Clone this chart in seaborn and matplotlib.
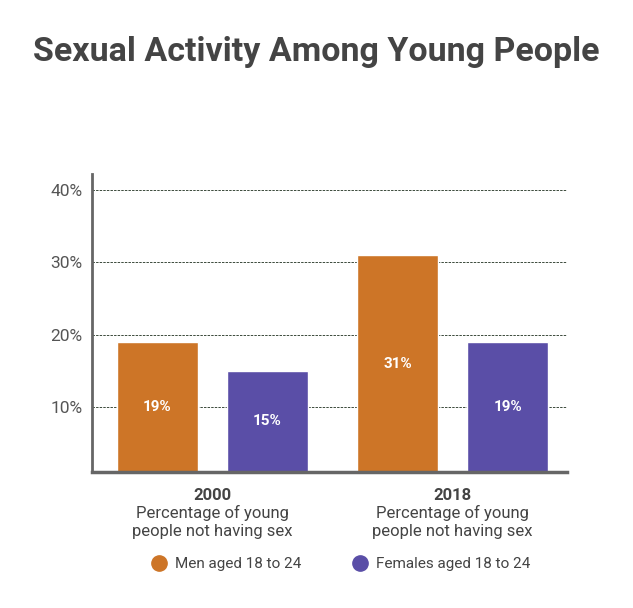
import numpy as np
import pandas as pd
import matplotlib
matplotlib.use("Agg")
import matplotlib.pyplot as plt
from matplotlib.lines import Line2D
import seaborn as sns

# values
years = ["2000", "2018"]
caption = "Percentage of young\npeople not having sex"
groups = ["Men aged 18 to 24", "Females aged 18 to 24"]
men_pct = [19, 31]
women_pct = [15, 19]
y_ticks = [10, 20, 30, 40]

colors = ["#CD7527", "#5A4EA7"]
dark = "#444444"
grey = "#555555"

df = pd.DataFrame({
    "year": years * 2,
    "group": [groups[0]] * len(years) + [groups[1]] * len(years),
    "pct": men_pct + women_pct,
})

sns.set_style("white")
plt.rcParams["font.family"] = ["Roboto", "DejaVu Sans"]

fig = plt.figure(figsize=(6.33, 6.08), dpi=100)
ax = fig.add_axes([92 / 633, 1 - 472 / 608, (567 - 92) / 633, (472 - 174) / 608])

sns.barplot(data=df, x="year", y="pct", hue="group", palette=colors,
            width=0.917, gap=0.264, saturation=1, legend=False, ax=ax)

ax.set_ylim(1, 42.2)
ax.set_xlim(-0.502, 1.477)
ax.set_yticks(y_ticks)
ax.set_yticklabels(["{}%".format(v) for v in y_ticks], color=grey, fontsize=12.5)
ax.tick_params(axis="y", length=0, pad=7)
ax.tick_params(axis="x", length=0, pad=24)
ax.set_xticks(range(len(years)))
ax.set_xticklabels([caption] * len(years), color=dark, fontsize=12,
                   linespacing=1.2)
ax.set_xlabel("")
ax.set_ylabel("")

ax.yaxis.grid(True, color="#3b4a3b", linestyle=(0, (2.5, 1.2)), linewidth=0.7)
ax.set_axisbelow(True)

for s in ["top", "right"]:
    ax.spines[s].set_visible(False)
ax.spines["left"].set_color("#666666")
ax.spines["left"].set_linewidth(2)
ax.spines["bottom"].set_color("#666666")
ax.spines["bottom"].set_linewidth(2.5)

for cont in ax.containers:
    ax.bar_label(cont, labels=["{}%".format(int(v)) for v in cont.datavalues],
                 label_type="center", color="white", fontsize=11,
                 fontweight="bold")

# bold year above each caption
trans = ax.get_xaxis_transform()
for i, yr in enumerate(years):
    ax.text(i, -23 / 298, yr, transform=trans, ha="center", va="center",
            fontsize=12, fontweight="bold", color=dark)

fig.text(0.5, 1 - 52 / 608, "Sexual Activity Among Young People",
         ha="center", va="center", fontsize=24.5, fontweight="bold", color=dark)

handles = [Line2D([0], [0], marker="o", linestyle="", markersize=11,
                  markerfacecolor=c, markeredgecolor=c) for c in colors]
fig.legend(handles, groups, loc="center", ncol=2, frameon=False,
           bbox_to_anchor=(337 / 633, 1 - 564 / 608), fontsize=11,
           labelcolor=dark, handletextpad=0.05, columnspacing=2.8)

fig.savefig("out.png", dpi=100)
